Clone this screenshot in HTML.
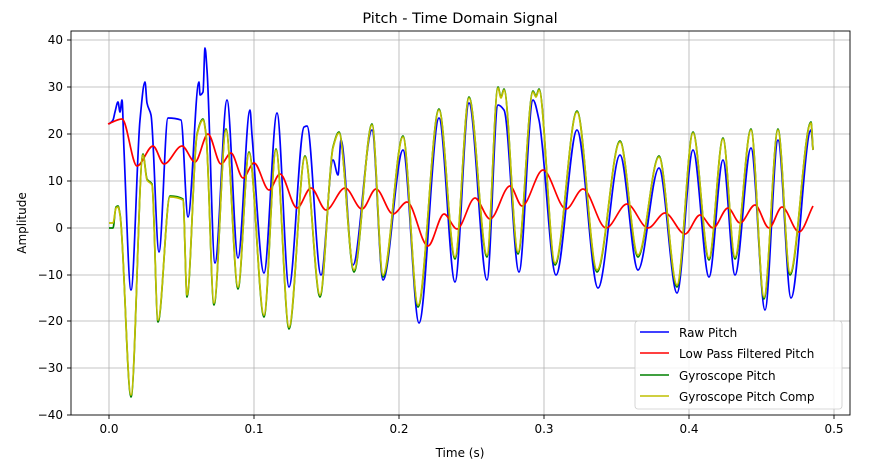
<!DOCTYPE html>
<html><head><meta charset="utf-8"><style>
body{margin:0;background:#fff;}
svg{display:block;font-family:"DejaVu Sans","Liberation Sans",sans-serif;}
</style></head><body>
<svg id="s" width="877" height="471" viewBox="0 0 877 471" xmlns="http://www.w3.org/2000/svg">
<rect width="877" height="471" fill="#fff"/>
<g stroke="#b0b0b0" stroke-width="0.8">
<line x1="109" y1="31" x2="109" y2="415"/><line x1="254" y1="31" x2="254" y2="415"/><line x1="399" y1="31" x2="399" y2="415"/><line x1="544" y1="31" x2="544" y2="415"/><line x1="689" y1="31" x2="689" y2="415"/><line x1="834" y1="31" x2="834" y2="415"/>
<line x1="71" y1="40" x2="850" y2="40"/><line x1="71" y1="87" x2="850" y2="87"/><line x1="71" y1="134" x2="850" y2="134"/><line x1="71" y1="181" x2="850" y2="181"/><line x1="71" y1="228" x2="850" y2="228"/><line x1="71" y1="275" x2="850" y2="275"/><line x1="71" y1="321" x2="850" y2="321"/><line x1="71" y1="368" x2="850" y2="368"/>
</g>
<g id="series" fill="none" stroke-width="1.7" stroke-linejoin="round"></g>
<rect x="71" y="31" width="779" height="384" fill="none" stroke="#000" stroke-width="0.9"/>
<g stroke="#000" stroke-width="0.9">
<line x1="109" y1="415" x2="109" y2="419"/><line x1="254" y1="415" x2="254" y2="419"/><line x1="399" y1="415" x2="399" y2="419"/><line x1="544" y1="415" x2="544" y2="419"/><line x1="689" y1="415" x2="689" y2="419"/><line x1="834" y1="415" x2="834" y2="419"/>
<line x1="67" y1="40" x2="71" y2="40"/><line x1="67" y1="87" x2="71" y2="87"/><line x1="67" y1="134" x2="71" y2="134"/><line x1="67" y1="181" x2="71" y2="181"/><line x1="67" y1="228" x2="71" y2="228"/><line x1="67" y1="275" x2="71" y2="275"/><line x1="67" y1="321" x2="71" y2="321"/><line x1="67" y1="368" x2="71" y2="368"/><line x1="67" y1="415" x2="71" y2="415"/>
</g>
<g font-size="12" fill="#000" text-anchor="middle">
<text x="109" y="433">0.0</text><text x="254" y="433">0.1</text><text x="399" y="433">0.2</text><text x="544" y="433">0.3</text><text x="689" y="433">0.4</text><text x="834" y="433">0.5</text>
</g>
<g font-size="12" fill="#000" text-anchor="end">
<text x="63" y="44">40</text><text x="63" y="91">30</text><text x="63" y="138">20</text><text x="63" y="185">10</text><text x="63" y="232">0</text><text x="63" y="279">−10</text><text x="63" y="325">−20</text><text x="63" y="372">−30</text><text x="63" y="419">−40</text>
</g>
<text x="460" y="23" font-size="14.5" text-anchor="middle">Pitch - Time Domain Signal</text>
<text x="460" y="457" font-size="12" text-anchor="middle">Time (s)</text>
<text x="26" y="223" font-size="12" text-anchor="middle" transform="rotate(-90 26 223)">Amplitude</text>
<rect x="635" y="321" width="207" height="88" rx="3" fill="#fff" fill-opacity="0.85" stroke="#ccc" stroke-width="0.8"/>
<g stroke-width="1.6">
<line x1="640" y1="332" x2="669" y2="332" stroke="#0000ff"/>
<line x1="640" y1="353" x2="669" y2="353" stroke="#ff0000"/>
<line x1="640" y1="375" x2="669" y2="375" stroke="#008000"/>
<line x1="640" y1="396" x2="669" y2="396" stroke="#bfbf00"/>
</g>
<g font-size="12" fill="#000">
<text x="679" y="337">Raw Pitch</text><text x="679" y="358">Low Pass Filtered Pitch</text><text x="679" y="380">Gyroscope Pitch</text><text x="679" y="401">Gyroscope Pitch Comp</text>
</g>
</svg>
<script>
function path(p){var n=p.length,dl=[],m=[],i;
for(i=0;i<n-1;i++)dl.push((p[i+1][1]-p[i][1])/(p[i+1][0]-p[i][0]));
m[0]=dl[0];m[n-1]=dl[n-2];
for(i=1;i<n-1;i++){if(dl[i-1]*dl[i]<=0)m[i]=0;else{var h0=p[i][0]-p[i-1][0],h1=p[i+1][0]-p[i][0];var w1=2*h1+h0,w2=h1+2*h0;m[i]=(w1+w2)/(w1/dl[i-1]+w2/dl[i]);}}
var d="M"+p[0][0]+","+p[0][1];
for(i=0;i<n-1;i++){var h=(p[i+1][0]-p[i][0])/3;d+=" C"+(p[i][0]+h).toFixed(1)+","+(p[i][1]+m[i]*h).toFixed(1)+" "+(p[i+1][0]-h).toFixed(1)+","+(p[i+1][1]-m[i+1]*h).toFixed(1)+" "+p[i+1][0]+","+p[i+1][1];}
return d;}
var Y=[[109,223],[113,223],[116,208],[118,207],[120,215],[131,395],[143,155],[147,180],[152,185],[158,320],[170,197],[183,200],[187,295],[197,135],[203,120],[206,135],[214,303],[226,130],[238,287],[249,153],[264,315],[276,150],[289,327],[305,157],[320,295],[333,148],[339,133],[354,270],[372,125],[383,275],[403,137],[418,305],[439,110],[455,257],[469,98],[487,255],[498,88],[501,98],[504,90],[518,252],[533,92],[536,97],[539,90],[555,263],[577,112],[597,270],[620,142],[638,255],[659,157],[677,285],[693,133],[709,258],[723,139],[735,257],[751,130],[764,297],[778,130],[790,273],[811,123],[813,150]];
var G=Y.map(function(p,i){var dy=p[1]>228?2:-1;if(i<2)dy=5;return [p[0],p[1]+dy];});
var B=[[109,124],[113,120],[115,112],[118,102],[120,112],[122,100],[124,150],[131,290],[140,120],[145,82],[147,103],[151,115],[159,252],[168,118],[181,120],[188,217],[199,82],[200,95],[203,92],[205,48],[207,70],[215,263],[227,100],[238,258],[250,110],[252,135],[264,273],[277,113],[289,287],[304,127],[307,126],[321,275],[333,160],[338,175],[341,140],[353,265],[372,130],[383,280],[403,150],[419,323],[439,118],[455,282],[469,103],[487,280],[498,105],[504,110],[519,272],[533,100],[539,120],[556,275],[577,130],[598,288],[620,155],[638,270],[659,168],[677,293],[693,150],[709,277],[723,160],[735,275],[751,148],[765,310],[778,140],[791,298],[811,130],[813,150]];
var R=[[108,124],[122,119],[137,166],[153,146],[164,164],[182,146],[195,162],[208,134],[221,164],[231,153],[243,178],[254,163],[269,190],[280,174],[297,208],[311,188],[326,210],[345,188],[362,209],[376,189],[393,214],[407,202],[428,246],[444,214],[457,229],[475,198],[490,219],[510,186],[522,206],[543,170],[566,209],[583,189],[606,228],[627,204],[648,228],[665,213],[685,234],[700,215],[713,228],[728,208],[740,223],[755,205],[769,228],[782,207],[799,232],[813,206]];
var g=document.getElementById("series");
[[B,"#0000ff"],[R,"#ff0000"],[G,"#008000"],[Y,"#bfbf00"]].forEach(function(s){var e=document.createElementNS("http://www.w3.org/2000/svg","path");e.setAttribute("d",path(s[0]));e.setAttribute("stroke",s[1]);g.appendChild(e);});
</script>
</body></html>
